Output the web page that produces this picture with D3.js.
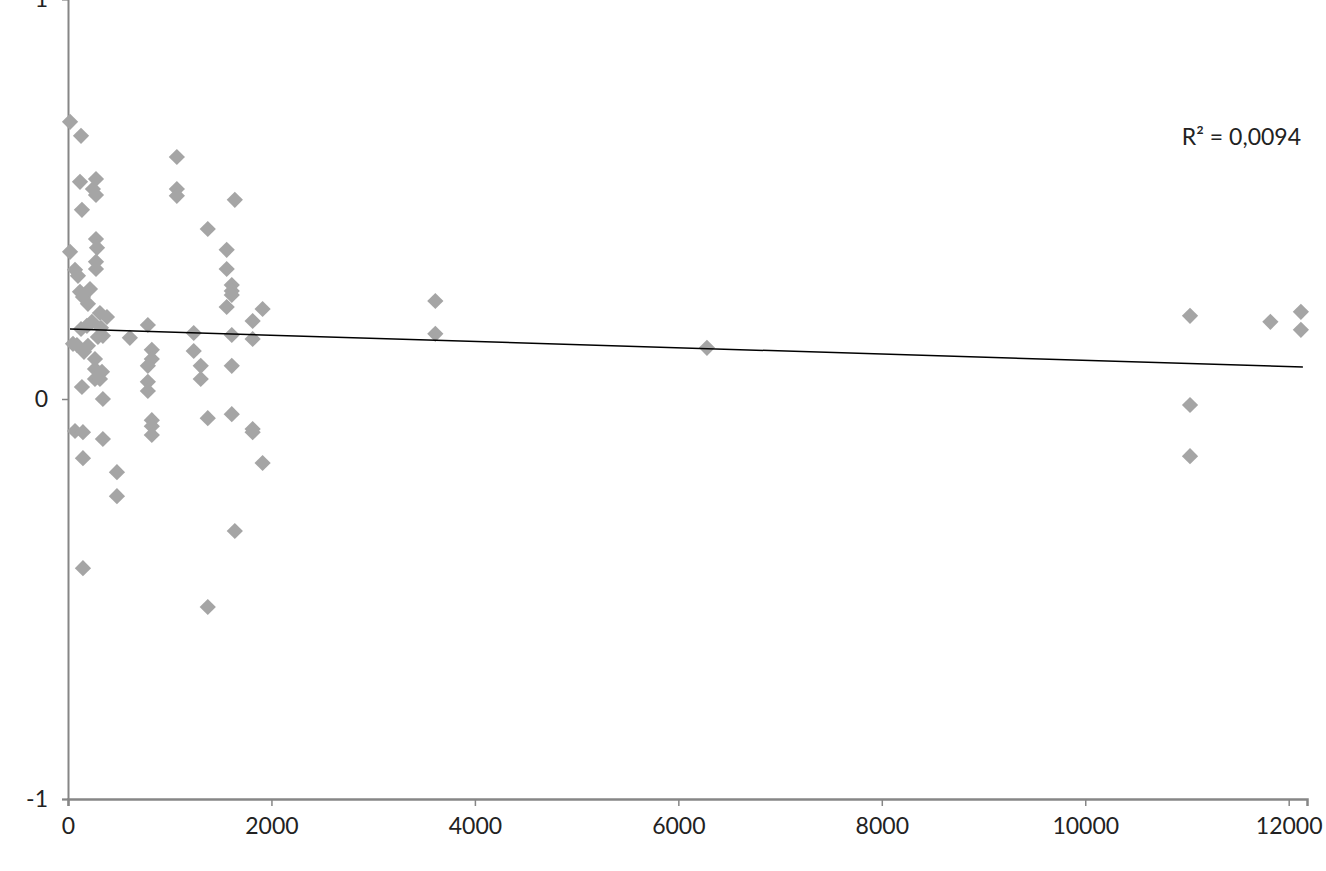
<!DOCTYPE html>
<html>
<head>
<meta charset="utf-8">
<script src="https://cdn.jsdelivr.net/npm/d3@7"></script>
<style>
  body { margin: 0; background: #fff; }
  text { font-family: Lato, "Open Sans", sans-serif; fill: #222; }
</style>
</head>
<body>
<script>
// scatter values: x and y pairs
var xs = [20, 128, 118, 275, 245, 275, 137, 275, 285, 20, 275, 275, 69, 98, 118, 216, 147, 196,
          314, 383, 235, 128, 186, 294, 343, 49, 196, 88, 265, 265, 334, 265, 314, 137, 343, 69,
          147, 343, 147, 481, 481, 147, 157, 324, 608,
          1070, 1070, 1070, 1640, 1374, 1560, 1560, 1610, 1610, 1610, 1560, 1913, 1815, 785, 1236,
          1610, 1815, 824, 824, 785, 785, 785, 824, 824, 824, 1236, 1305, 1305, 1374, 1610, 1610,
          1815, 1815, 1913, 1640, 1374,
          3611, 3611, 6281, 11030, 11030, 11030, 11820, 12120, 12120];
var ys = [0.693, 0.658, 0.543, 0.55, 0.525, 0.51, 0.473, 0.40, 0.378, 0.368, 0.343, 0.325, 0.323,
          0.308, 0.268, 0.275, 0.255, 0.238, 0.215, 0.205, 0.193, 0.175, 0.183, 0.155, 0.158, 0.138,
          0.133, 0.135, 0.10, 0.075, 0.068, 0.05, 0.05, 0.03, 0.0, -0.08, -0.083, -0.10, -0.148,
          -0.183, -0.243, -0.423, 0.118, 0.178, 0.153,
          0.605, 0.525, 0.508, 0.498, 0.425, 0.373, 0.325, 0.285, 0.27, 0.26, 0.23, 0.225, 0.195,
          0.185, 0.165, 0.16, 0.15, 0.123, 0.10, 0.083, 0.043, 0.02, -0.053, -0.068, -0.09, 0.12,
          0.083, 0.05, -0.048, 0.083, -0.038, -0.075, -0.083, -0.16, -0.33, -0.52,
          0.245, 0.163, 0.128, 0.208, -0.015, -0.143, 0.193, 0.218, 0.173];

var xTicks = [0, 2000, 4000, 6000, 8000, 10000, 12000];
var yTicks = [-1, 0, 1];

// linear trend line as shown in the chart
var trendIntercept = 0.175,
    trendSlope = -0.00000785,
    trendLabel = 'R\u00b2 = 0,0094';

/**************************************/

var width  = 1326,
    height = 871;

var svg = d3.select('body')
    .append('svg')
    .attr('width', width)
    .attr('height', height);

var x = d3.scaleLinear().domain([0, 12180]).range([68, 1307]);
var y = d3.scaleLinear().domain([-1, 1]).range([799, -1]);

var axisColor = '#868686';
var plainNum = function(d) { return String(d); };

// y axis
var yAxis = svg.append('g')
    .attr('transform', 'translate(' + x(0) + ',0)')
    .call(d3.axisLeft(y).tickValues(yTicks).tickSize(6).tickPadding(14).tickFormat(plainNum));
yAxis.select('.domain').attr('stroke', axisColor).attr('stroke-width', 2);
yAxis.selectAll('.tick line').attr('stroke', axisColor).attr('stroke-width', 1.5);
yAxis.selectAll('.tick text').style('font-size', '23px').attr('fill', '#222');

// x axis
var xAxis = svg.append('g')
    .attr('transform', 'translate(0,' + y(-1) + ')')
    .call(d3.axisBottom(x).tickValues(xTicks).tickSize(7).tickPadding(12).tickFormat(plainNum));
xAxis.select('.domain').attr('stroke', axisColor).attr('stroke-width', 2.5);
xAxis.selectAll('.tick line').attr('stroke', axisColor).attr('stroke-width', 1.5);
xAxis.selectAll('.tick text').style('font-size', '23px').attr('fill', '#222');

// points
var points = xs.map(function(d, i) { return {x: d, y: ys[i]}; });
var diamond = d3.symbol().type(d3.symbolSquare).size(132);

svg.append('g')
    .selectAll('path')
    .data(points)
    .enter().append('path')
    .attr('d', diamond)
    .attr('transform', function(d) {
        return 'translate(' + x(d.x) + ',' + y(d.y) + ') rotate(45)';
    })
    .attr('fill', '#a5a5a5');

// trend line
var xMax = d3.max(xs);
svg.append('line')
    .attr('x1', x(0) + 2)
    .attr('y1', y(trendIntercept))
    .attr('x2', x(xMax) + 2)
    .attr('y2', y(trendIntercept + trendSlope * xMax))
    .attr('stroke', '#000')
    .attr('stroke-width', 1.5);

svg.append('text')
    .attr('x', 1301)
    .attr('y', 145)
    .attr('text-anchor', 'end')
    .style('font-size', '23px')
    .text(trendLabel);
</script>
</body>
</html>
